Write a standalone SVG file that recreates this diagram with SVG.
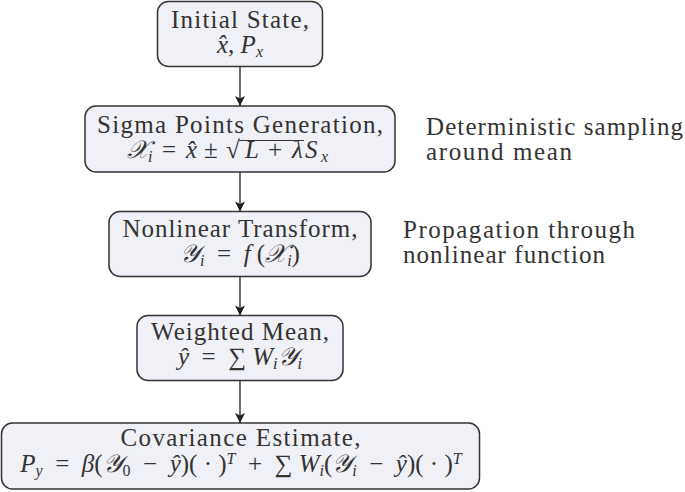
<svg xmlns="http://www.w3.org/2000/svg" width="685" height="492" viewBox="0 0 685 492">
<defs>
<style>
.box{fill:#f0f0f7;stroke:#333;stroke-width:1.5}
.t{font-family:"Liberation Serif","Times New Roman",serif;font-size:25px;fill:#333}
.c{text-anchor:middle}
.m{font-family:"Liberation Serif","Times New Roman",serif;font-size:25px;fill:#333;text-anchor:middle}
.i{font-style:italic}
.s{font-size:16px}
.bar{stroke:#333;stroke-width:1.2}
.edge{stroke:#222;stroke-width:1.3;fill:none;marker-end:url(#ah)}
</style>
<marker id="ah" markerWidth="12" markerHeight="12" refX="10" refY="5" orient="auto" markerUnits="userSpaceOnUse">
<path d="M0,0 L10,5 L0,10 L2.5,5 z" fill="#222"/>
</marker>
</defs>
<g id="edges">
<line class="edge" x1="240" y1="66.5" x2="240" y2="106"/>
<line class="edge" x1="240" y1="172" x2="240" y2="211.5"/>
<line class="edge" x1="240" y1="276.5" x2="240" y2="315.5"/>
<line class="edge" x1="240" y1="380.5" x2="240" y2="423"/>
</g>
<g id="n1">
<rect class="box" x="157.5" y="1.5" width="165" height="65" rx="11"/>
<text class="t c" x="240" y="28" textLength="138" lengthAdjust="spacing">Initial State,</text>
<text class="m" x="240" y="52.5"><tspan class="i">x̂</tspan>, <tspan class="i">P</tspan><tspan class="i s" dy="4">x</tspan></text>
</g>
<g id="n2">
<rect class="box" x="85" y="106" width="310" height="66" rx="11"/>
<text class="t c" x="240" y="133" textLength="286" lengthAdjust="spacing">Sigma Points Generation,</text>
<text class="t" y="158"><tspan x="127" class="i">𝒳</tspan><tspan x="148" y="162" class="i s">i</tspan><tspan x="162" y="158">=</tspan><tspan x="186" class="i">x̂</tspan><tspan x="204">±</tspan><tspan x="226">√</tspan><tspan x="245" class="i">L</tspan><tspan x="268">+</tspan><tspan x="292" class="i">λ</tspan><tspan x="305" class="i">S</tspan><tspan x="321" y="162" class="i s">x</tspan></text>
<line class="bar" x1="239" y1="140.5" x2="304" y2="140.5"/>
</g>
<g id="n3">
<rect class="box" x="109" y="211.5" width="262" height="65" rx="11"/>
<text class="t c" x="240" y="237" textLength="235" lengthAdjust="spacing">Nonlinear Transform,</text>
<text class="m" x="240" y="262"><tspan class="i">𝒴</tspan><tspan class="i s" dy="4">i</tspan><tspan dy="-4">&#8194;=&#8194;</tspan><tspan class="i">f</tspan> (<tspan class="i">𝒳</tspan><tspan class="i s" dy="4">i</tspan><tspan dy="-4">)</tspan></text>
</g>
<g id="n4">
<rect class="box" x="137" y="315.5" width="206" height="65" rx="11"/>
<text class="t c" x="240" y="340" textLength="178" lengthAdjust="spacing">Weighted Mean,</text>
<text class="m" x="240" y="365"><tspan class="i">ŷ</tspan>&#8194;=&#8194;∑ <tspan class="i">W</tspan><tspan class="i s" dy="4">i</tspan><tspan class="i" dy="-4">𝒴</tspan><tspan class="i s" dy="4">i</tspan></text>
</g>
<g id="n5">
<rect class="box" x="1.5" y="423" width="478" height="66" rx="11"/>
<text class="t c" x="240.5" y="446" textLength="240" lengthAdjust="spacing">Covariance Estimate,</text>
<text class="m" x="241" y="472"><tspan class="i">P</tspan><tspan class="i s" dy="4">y</tspan><tspan dy="-4">&#8194;=&#8194;</tspan><tspan class="i">β</tspan>(<tspan class="i">𝒴</tspan><tspan class="s" dy="4">0</tspan><tspan dy="-4">&#8194;−&#8194;</tspan><tspan class="i">ŷ</tspan>)( · )<tspan class="i s" dy="-8">T</tspan><tspan dy="8">&#8194;+&#8194;∑ </tspan><tspan class="i">W</tspan><tspan class="i s" dy="4">i</tspan><tspan dy="-4">(</tspan><tspan class="i">𝒴</tspan><tspan class="i s" dy="4">i</tspan><tspan dy="-4">&#8194;−&#8194;</tspan><tspan class="i">ŷ</tspan>)( · )<tspan class="i s" dy="-8">T</tspan></text>
</g>
<g id="notes">
<text class="t" x="426" y="135" textLength="257" lengthAdjust="spacing">Deterministic sampling</text>
<text class="t" x="426" y="160" textLength="146" lengthAdjust="spacing">around mean</text>
<text class="t" x="403" y="238" textLength="232" lengthAdjust="spacing">Propagation through</text>
<text class="t" x="403" y="263" textLength="202" lengthAdjust="spacing">nonlinear function</text>
</g>
</svg>
